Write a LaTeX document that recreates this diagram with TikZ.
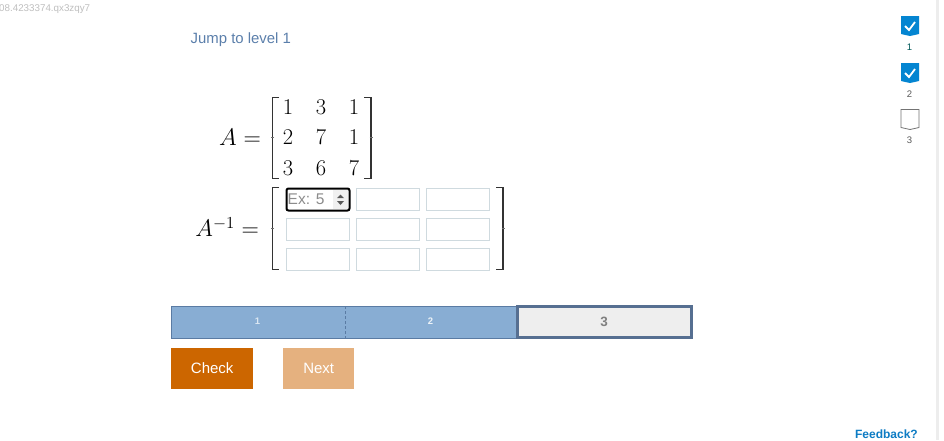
\RequirePackage{fix-cm}
\documentclass[tikz,border=0pt]{standalone}
\usepackage{fontspec}
\setmainfont{Liberation Sans}
\usepackage{amsmath}
\definecolor{barblue}{HTML}{88ADD3}
\definecolor{barline}{HTML}{5A7BA3}
\definecolor{curline}{HTML}{566F91}
\definecolor{curfill}{HTML}{EEEEEE}
\definecolor{checkor}{HTML}{CC6600}
\definecolor{nextor}{HTML}{E5B17F}
\definecolor{boxline}{HTML}{CFDADF}
\definecolor{brk}{HTML}{333333}
\definecolor{tick}{HTML}{0485D1}
\definecolor{jump}{HTML}{5B7FAB}
\definecolor{feed}{HTML}{0D7CC4}
\tikzset{
  x=1pt,y=-1pt,
  inbox/.style={draw=boxline,line width=1pt,fill=white,minimum width=63pt,minimum height=22pt,inner sep=0pt},
  seg/.style={fill=barblue,inner sep=0pt,minimum height=32pt},
  btn/.style={inner sep=0pt,minimum height=41pt,text=white,font=\fontsize{15}{15}\selectfont},
  mx/.style={inner sep=0pt,font=\fontsize{22.5}{22}\selectfont},
  lhs/.style={inner sep=0pt,font=\fontsize{24}{24}\selectfont},
  lv/.style={inner sep=0pt,font=\bfseries\fontsize{9.5}{10}\selectfont},
  num/.style={inner sep=0pt,font=\fontsize{9.5}{10}\selectfont,text=#1},
  bracket/.style={draw=brk,line width=1.4pt},
  nub/.style={draw=brk!70,line width=0.8pt},
  badgeon/.style={fill=tick,draw=none},
  badgeoff/.style={fill=white,draw=gray!90!black,line width=0.8pt},
}
\newcommand{\badge}[1]{%
  \path[#1] (-9,0) -- (9,0) -- (9,18) -- (0,20) -- (-9,18) -- cycle;}
\begin{document}
\begin{tikzpicture}
\useasboundingbox (0,0) rectangle (944,440);
\fill[white] (0,0) rectangle (944,440);
\fill[black!7] (935.5,0) rectangle (939,440);

\node[anchor=west,inner sep=0pt,text=black!25,font=\fontsize{9.8}{10}\selectfont] (id) at (-1,9) {08.4233374.qx3zqy7};
\node[anchor=west,inner sep=0pt,text=jump,font=\fontsize{14.9}{15}\selectfont] (jump) at (190.5,39.5) {Jump to level 1};

% matrix A
\node[lhs,anchor=east] (lhsA) at (261,137) {$A=$};
\draw[bracket] (279,97.5) -- (272.5,97.5) -- (272.5,178.5) -- (279,178.5);
\draw[bracket] (364,97.5) -- (371,97.5) -- (371,178.5) -- (364,178.5);
\draw[nub] (271,137.5) -- (274,137.5) (369.5,137.5) -- (372.5,137.5);
\node[mx] (a11) at (288,107) {$1$};
\node[mx] (a12) at (321,107) {$3$};
\node[mx] (a13) at (354,107) {$1$};
\node[mx] (a21) at (288,137.5) {$2$};
\node[mx] (a22) at (321,137.5) {$7$};
\node[mx] (a23) at (354,137.5) {$1$};
\node[mx] (a31) at (288,168) {$3$};
\node[mx] (a32) at (321,168) {$6$};
\node[mx] (a33) at (354,168) {$7$};

% inverse
\node[lhs,anchor=east] (lhsB) at (259,227) {$A^{-1}=$};
\draw[bracket] (279,187.5) -- (272.5,187.5) -- (272.5,269.5) -- (279,269.5);
\draw[bracket] (496,187.5) -- (503,187.5) -- (503,269.5) -- (496,269.5);
\draw[nub] (271,228.5) -- (274,228.5) (501.5,228.5) -- (504.5,228.5);
\node[inbox,draw=black,line width=2pt,rounded corners=2pt] (b11) at (318,199.5) {};
\fill[black!6] (333,190) rectangle (348,209);
\node[anchor=west,inner sep=0pt,text=black!45,font=\fontsize{15.5}{15}\selectfont] (ex) at (287.5,199.5) {Ex: 5};
\fill[black!65] (340.5,194.5) -- (344,198) -- (337,198) -- cycle;
\fill[black!65] (340.5,205) -- (344,201) -- (337,201) -- cycle;
\node[inbox] (b12) at (388,199.5) {};
\node[inbox] (b13) at (458,199.5) {};
\node[inbox] (b21) at (318,229.5) {};
\node[inbox] (b22) at (388,229.5) {};
\node[inbox] (b23) at (458,229.5) {};
\node[inbox] (b31) at (318,259.5) {};
\node[inbox] (b32) at (388,259.5) {};
\node[inbox] (b33) at (458,259.5) {};

% progress bar
\node[seg,anchor=north west,minimum width=174pt] (s1) at (171,306) {};
\node[seg,anchor=north west,minimum width=172pt] (s2) at (345,306) {};
\draw[barline,line width=1pt] (s2.north east) -- (s1.north west) -- (s1.south west) -- (s2.south east);
\draw[barline,line width=0.8pt,dash pattern=on 3pt off 2pt] (s1.north east) -- (s1.south east);
\node[lv,text=white!70!barblue] (l1) at (257.5,321.5) {1};
\node[lv,text=white!85!barblue] (l2) at (430.5,321.5) {2};
\node[draw=curline,line width=3pt,fill=curfill,inner sep=0pt,minimum width=174pt,minimum height=31pt,text=black!50,font=\bfseries\fontsize{13.5}{14}\selectfont] (s3) at (604,322) {3};

% buttons
\node[btn,fill=checkor,anchor=north west,minimum width=82pt] (check) at (171,347.5) {Check};
\node[btn,fill=nextor,anchor=north west,minimum width=71pt] (next) at (283,347.5) {Next};

% side badges
\begin{scope}[shift={(910,16)}]
\badge{badgeon}
\draw[white,line width=1.8pt] (-5,10) -- (-1,14) -- (5,6);
\end{scope}
\begin{scope}[shift={(910,63)}]
\badge{badgeon}
\draw[white,line width=1.8pt] (-5,10) -- (-1,14) -- (5,6);
\end{scope}
\begin{scope}[shift={(910,109.5)}]
\badge{badgeoff}
\end{scope}
\node[num=teal!70!black] (n1) at (909.5,47.5) {1};
\node[num=black!65] (n2) at (909.5,94) {2};
\node[num=black!65] (n3) at (909.5,140.5) {3};

\node[anchor=base east,inner sep=0pt,text=feed,font=\bfseries\fontsize{12}{12}\selectfont] (fb) at (918,438.8) {Feedback?};
\end{tikzpicture}
\end{document}
